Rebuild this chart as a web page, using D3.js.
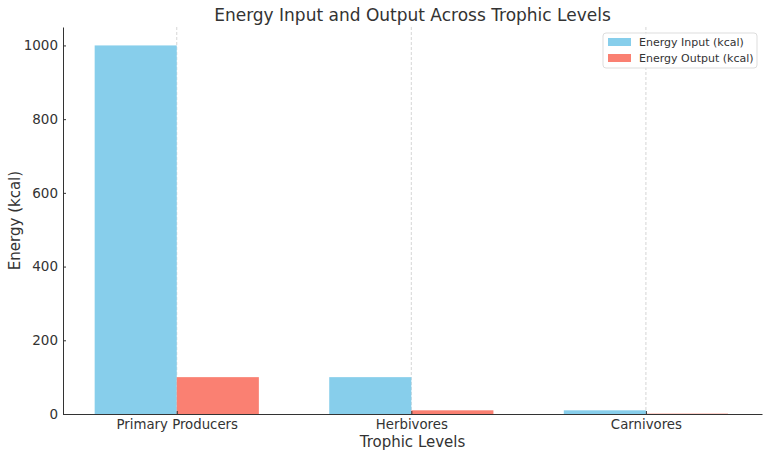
<!DOCTYPE html>
<html>
<head>
<meta charset="utf-8">
<script src="https://cdn.jsdelivr.net/npm/d3@7"></script>
<style>
  body { margin: 0; background: #fff; }
  svg, svg text { font-family: "DejaVu Sans", sans-serif; }
</style>
</head>
<body>
<svg id="chart"></svg>
<script>
const width = 768;
const height = 458;

// Data
const levels = ["Primary Producers", "Herbivores", "Carnivores"];
const energyInput = [1000, 100, 10];
const energyOutput = [100, 10, 1];
const yTicks = [0, 200, 400, 600, 800, 1000];

const margin = { top: 27, right: 6, bottom: 44, left: 63 };
const plotW = width - margin.left - margin.right;
const plotH = height - margin.top - margin.bottom;
const barWidth = 0.35;

const svg = d3.select("#chart")
  .attr("width", width)
  .attr("height", height);

const g = svg.append("g")
  .attr("transform", `translate(${margin.left},${margin.top})`);

// Scales (numeric category positions, like matplotlib)
const x = d3.scaleLinear()
  .domain([-0.485, levels.length - 1 + 0.485 + 0.01])
  .range([0, plotW]);

const y = d3.scaleLinear()
  .domain([0, 1050])
  .range([plotH, 0]);

// Vertical grid at category centers
g.selectAll(".grid")
  .data(levels)
  .enter()
  .append("line")
  .attr("x1", (d, i) => x(i))
  .attr("x2", (d, i) => x(i))
  .attr("y1", 0)
  .attr("y2", plotH)
  .attr("stroke", "#cccccc")
  .attr("stroke-width", 0.8)
  .attr("stroke-dasharray", "3,2");

// Bars
g.selectAll(".bar-in")
  .data(energyInput)
  .enter()
  .append("rect")
  .attr("x", (d, i) => x(i - barWidth))
  .attr("y", d => y(d))
  .attr("width", x(barWidth) - x(0))
  .attr("height", d => plotH - y(d))
  .attr("fill", "#87CEEB");

g.selectAll(".bar-out")
  .data(energyOutput)
  .enter()
  .append("rect")
  .attr("x", (d, i) => x(i))
  .attr("y", d => y(d))
  .attr("width", x(barWidth) - x(0))
  .attr("height", d => plotH - y(d))
  .attr("fill", "#FA8072");

// Axes (ticks point inward, like the reference)
const yAxis = d3.axisLeft(y).tickValues(yTicks).tickFormat(d3.format("d"))
  .tickSize(-3).tickSizeOuter(0).tickPadding(5);
const yG = g.append("g").call(yAxis);
yG.attr("font-family", null);
yG.select(".domain").attr("stroke", "#333").attr("stroke-width", 1);
yG.selectAll(".tick line").attr("stroke", "#333");
yG.selectAll(".tick text").attr("fill", "#333").attr("font-size", 13.5);

const xAxis = d3.axisBottom(x)
  .tickValues(levels.map((d, i) => i))
  .tickFormat(i => levels[i])
  .tickSize(-3)
  .tickSizeOuter(0)
  .tickPadding(6);
const xG = g.append("g").attr("transform", `translate(0,${plotH})`).call(xAxis);
xG.attr("font-family", null);
xG.select(".domain").attr("stroke", "#333").attr("stroke-width", 1);
xG.selectAll(".tick line").attr("stroke", "#333");
xG.selectAll(".tick text").attr("fill", "#333").attr("font-size", 13.3);

// Titles
svg.append("text")
  .attr("x", margin.left + plotW / 2)
  .attr("y", 21)
  .attr("text-anchor", "middle")
  .attr("font-size", 17)
  .attr("fill", "#333")
  .text("Energy Input and Output Across Trophic Levels");

svg.append("text")
  .attr("x", margin.left + plotW / 2)
  .attr("y", 447)
  .attr("text-anchor", "middle")
  .attr("font-size", 15)
  .attr("fill", "#333")
  .text("Trophic Levels");

svg.append("text")
  .attr("transform", `translate(20,${margin.top + plotH / 2}) rotate(-90)`)
  .attr("text-anchor", "middle")
  .attr("font-size", 15)
  .attr("fill", "#333")
  .text("Energy (kcal)");

// Legend
const legendItems = [
  { label: "Energy Input (kcal)", color: "#87CEEB" },
  { label: "Energy Output (kcal)", color: "#FA8072" }
];
const legend = svg.append("g").attr("transform", "translate(603,33)");
legend.append("rect")
  .attr("width", 154)
  .attr("height", 35)
  .attr("rx", 3)
  .attr("fill", "white")
  .attr("fill-opacity", 0.8)
  .attr("stroke", "#dddddd");
legendItems.forEach((d, i) => {
  legend.append("rect")
    .attr("x", 5)
    .attr("y", 5 + i * 16)
    .attr("width", 23)
    .attr("height", 8)
    .attr("fill", d.color);
  legend.append("text")
    .attr("x", 36)
    .attr("y", 13 + i * 16)
    .attr("font-size", 11)
    .attr("fill", "#333")
    .text(d.label);
});
</script>
</body>
</html>
